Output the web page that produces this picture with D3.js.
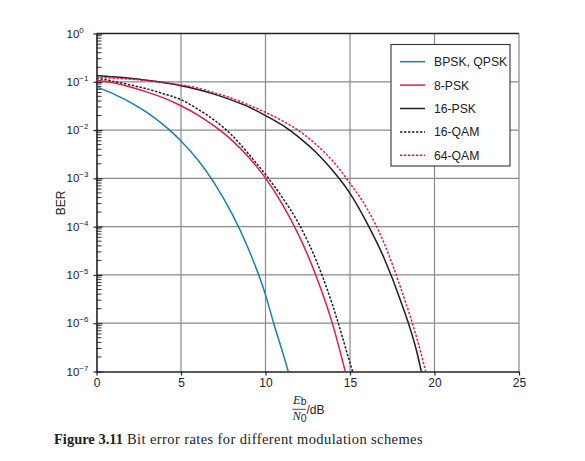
<!DOCTYPE html>
<html>
<head>
<meta charset="utf-8">
<script src="https://cdn.jsdelivr.net/npm/d3@7.9.0/dist/d3.min.js"></script>
<style>
  body { margin: 0; background: #fff; }
  svg { display: block; }
  .sans { font-family: "Liberation Sans", Arial, sans-serif; fill: #222; }
  .serif { font-family: "Liberation Serif", "Times New Roman", serif; fill: #222; }
</style>
</head>
<body>
<svg id="chart" width="585" height="461"></svg>
<script>
// Eb/N0 in dB and BER
const bpskDb  = [0, 1, 2, 3, 4, 5, 6, 7, 8, 9, 10, 10.5, 11, 11.35];
const bpskBer = [0.0786, 0.0563, 0.0375, 0.0229, 0.0125, 0.00595, 0.00239, 7.7e-4, 1.9e-4, 3.4e-5, 3.9e-6, 9.5e-7, 2.6e-7, 1e-7];

const psk8Db  = [0, 1, 2, 3, 4, 5, 6, 7, 8, 9, 10, 11, 12, 13, 14, 14.72];
const psk8Ber = [0.108, 0.095, 0.078, 0.061, 0.0458, 0.0319, 0.0205, 0.0119, 0.0062, 0.00275, 0.00101, 2.9e-4, 6.3e-5, 9.4e-6, 8.8e-7, 1e-7];

const psk16Db  = [0, 1, 2, 3, 4, 5, 6, 7, 8, 9, 10, 11, 12, 13, 14, 15, 16, 17, 18, 19, 19.22];
const psk16Ber = [0.134, 0.127, 0.118, 0.107, 0.0955, 0.0832, 0.0692, 0.0549, 0.0417, 0.0302, 0.0200, 0.0126, 0.0070, 0.00343, 0.00142, 4.9e-4, 1.2e-4, 2.3e-5, 2.9e-6, 2.2e-7, 1e-7];

const qam16Db  = [0, 1, 2, 3, 4, 5, 6, 7, 8, 9, 10, 11, 12, 13, 14, 15, 15.15];
const qam16Ber = [0.120, 0.102, 0.086, 0.071, 0.056, 0.0427, 0.027, 0.0158, 0.0079, 0.0032, 0.0012, 4.0e-4, 1.1e-4, 2.0e-5, 2.2e-6, 1.5e-7, 1e-7];

const qam64Db  = [0, 1, 2, 3, 4, 5, 6, 7, 8, 9, 10, 11, 12, 13, 14, 15, 16, 17, 18, 19, 19.48];
const qam64Ber = [0.123, 0.119, 0.1135, 0.106, 0.0966, 0.0861, 0.0741, 0.0589, 0.0457, 0.0331, 0.0232, 0.0155, 0.00955, 0.00501, 0.00224, 7.9e-4, 2.4e-4, 4.7e-5, 5.4e-6, 4.3e-7, 1e-7];

const seriesNames = ["BPSK, QPSK", "8-PSK", "16-PSK", "16-QAM", "64-QAM"];
const xTicks = [0, 5, 10, 15, 20, 25];
const yTicks = [1, 1e-1, 1e-2, 1e-3, 1e-4, 1e-5, 1e-6, 1e-7];
const yExponents = ["0", "\u22121", "\u22122", "\u22123", "\u22124", "\u22125", "\u22126", "\u22127"];

const blue = "#1b7fae";
const red = "#da1f4b";
const dark = "#1e1e1e";
const series = [
    {name: seriesNames[0], db: bpskDb, ber: bpskBer, color: blue, dash: null},
    {name: seriesNames[1], db: psk8Db, ber: psk8Ber, color: red, dash: null},
    {name: seriesNames[2], db: psk16Db, ber: psk16Ber, color: dark, dash: null},
    {name: seriesNames[3], db: qam16Db, ber: qam16Ber, color: dark, dash: "2.4,1.6"},
    {name: seriesNames[4], db: qam64Db, ber: qam64Ber, color: red, dash: "2.4,1.6"}
];

const svg = d3.select("#chart");
const pLeft = 96.5, pRight = 519, pTop = 33.5, pBottom = 371.5;

const x = d3.scaleLinear().domain([0, 25]).range([pLeft, pRight]);
const y = d3.scaleLog().domain([1e-7, 1]).range([pBottom, pTop]);

// grid
const grid = svg.append("g").attr("stroke", "#8a8a8a").attr("stroke-width", 1.2);
grid.selectAll("line.v").data(xTicks.slice(1)).enter().append("line")
    .attr("x1", d => x(d)).attr("x2", d => x(d))
    .attr("y1", pTop).attr("y2", pBottom);
grid.selectAll("line.h").data(yTicks.slice(1, -1)).enter().append("line")
    .attr("x1", pLeft).attr("x2", pRight)
    .attr("y1", d => y(d)).attr("y2", d => y(d));

// minor ticks on the left axis (inside)
const minor = y.ticks().filter(d => Math.abs(Math.log10(d) - Math.round(Math.log10(d))) > 1e-6);
svg.append("g").attr("stroke", "#333").attr("stroke-width", 1)
    .selectAll("line").data(minor).enter().append("line")
    .attr("x1", pLeft).attr("x2", pLeft + 5)
    .attr("y1", d => y(d)).attr("y2", d => y(d));

// frame
svg.append("line").attr("x1", pLeft).attr("x2", pRight).attr("y1", pTop).attr("y2", pTop)
    .attr("stroke", "#222").attr("stroke-width", 1.6);

// x axis
const xAxis = svg.append("g").attr("transform", `translate(0,${pBottom})`)
    .call(d3.axisBottom(x).tickValues(xTicks).tickSize(4).tickSizeOuter(0).tickFormat(d3.format("d")));
xAxis.attr("font-family", null).attr("font-size", null);
xAxis.select(".domain").attr("stroke", "#222").attr("stroke-width", 1.6);
xAxis.selectAll(".tick line").attr("stroke", "#222").attr("stroke-width", 1.2);
xAxis.selectAll(".tick text").attr("class", "sans").attr("font-size", 12).attr("y", 7).attr("dy", "0.71em").attr("fill", "#222");

// y axis
const yAxis = svg.append("g").attr("transform", `translate(${pLeft},0)`)
    .call(d3.axisLeft(y).tickValues(yTicks).tickSize(3).tickSizeOuter(0).tickFormat(""));
yAxis.select(".domain").attr("stroke", "#222").attr("stroke-width", 1.6);
yAxis.selectAll(".tick line").attr("stroke", "#222").attr("stroke-width", 1.2).attr("x2", 6).attr("x1", -3);

const yLab = svg.append("g").attr("class", "sans");
yTicks.forEach((t, i) => {
    const txt = yLab.append("text").attr("x", 66.5).attr("y", y(t) + 4).attr("font-size", 11.5);
    txt.append("tspan").text("10");
    txt.append("tspan").attr("font-size", 8).attr("dy", -5).text(yExponents[i]);
});

// curves
const line = d3.line().x(d => x(d[0])).y(d => y(d[1])).curve(d3.curveMonotoneX);
svg.append("g").selectAll("path").data(series).enter().append("path")
    .attr("d", s => line(s.db.map((v, i) => [v, s.ber[i]])))
    .attr("fill", "none")
    .attr("stroke", s => s.color)
    .attr("stroke-width", 1.5)
    .attr("stroke-dasharray", s => s.dash);

// legend
const lg = svg.append("g");
lg.append("rect").attr("x", 391).attr("y", 44.5).attr("width", 119).attr("height", 121.5)
    .attr("fill", "#fff").attr("stroke", "#333").attr("stroke-width", 1.1);
series.forEach((s, i) => {
    const yy = 61.7 + i * 23.4;
    lg.append("line").attr("x1", 400).attr("x2", 425).attr("y1", yy).attr("y2", yy)
        .attr("stroke", s.color).attr("stroke-width", 1.5).attr("stroke-dasharray", s.dash);
    lg.append("text").attr("class", "sans").attr("x", 434).attr("y", yy + 4.4)
        .attr("font-size", 12.2).text(s.name);
});

// axis titles
svg.append("text").attr("class", "sans").attr("font-size", 12)
    .attr("transform", "translate(65,203) rotate(-90)").attr("text-anchor", "middle").text("BER");

const xl = svg.append("g");
const e = xl.append("text").attr("x", 293).attr("y", 404.3);
e.append("tspan").attr("class", "serif").attr("font-style", "italic").attr("font-size", 12.5).text("E");
e.append("tspan").attr("class", "sans").attr("font-size", 10.5).attr("dy", 1).text("b");
const n = xl.append("text").attr("x", 292.5).attr("y", 420);
n.append("tspan").attr("class", "serif").attr("font-style", "italic").attr("font-size", 12.5).text("N");
n.append("tspan").attr("class", "sans").attr("font-size", 10.5).attr("dy", 1.7).text("0");
xl.append("line").attr("x1", 292.5).attr("x2", 306).attr("y1", 409.3).attr("y2", 409.3)
    .attr("stroke", "#222").attr("stroke-width", 0.8);
xl.append("text").attr("class", "sans").attr("x", 306.5).attr("y", 413.8).attr("font-size", 12).text("/dB");

// caption
const cap = svg.append("text").attr("class", "serif").attr("x", 54).attr("y", 443.5).attr("font-size", 14.5);
cap.append("tspan").attr("font-weight", "bold").text("Figure 3.11");
cap.append("tspan").attr("letter-spacing", 0.4).text(" Bit error rates for different modulation schemes");
</script>
</body>
</html>
